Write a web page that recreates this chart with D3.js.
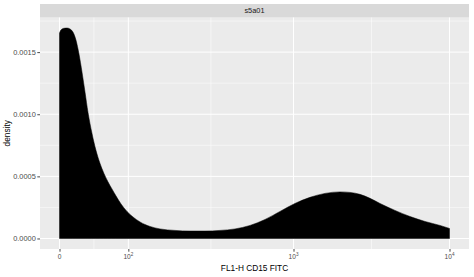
<!DOCTYPE html>
<html>
<head>
<meta charset="utf-8">
<script src="https://cdn.jsdelivr.net/npm/d3@7"></script>
<style>
  body { margin: 0; background: #fff; }
  text { font-family: "Liberation Sans", Arial, sans-serif; }
</style>
</head>
<body>
<svg></svg>
<script>
// x values are in the transformed (biexponential) scale, like ggcyto does it
let xTrans = [0.000, 0.015, 0.046, 0.077, 0.108, 0.138, 0.169, 0.200, 0.231, 0.262,
              0.292, 0.333, 0.374, 0.415, 0.456, 0.497, 0.538, 0.579, 0.631, 0.692,
              0.754, 0.826, 0.928, 1.031, 1.185, 1.338, 1.492, 1.646, 1.800, 1.954,
              2.108, 2.262, 2.415, 2.569, 2.723, 2.877, 2.979, 3.082, 3.185, 3.287,
              3.441, 3.595, 3.749, 3.903, 4.000]
let density = [0.001653, 0.001678, 0.001692, 0.001694, 0.001686, 0.001661, 0.001597, 0.001484, 0.001339, 0.001177,
               0.001016, 0.000847, 0.000710, 0.000605, 0.000524, 0.000456, 0.000399, 0.000343, 0.000278, 0.000218,
               0.000173, 0.000133, 0.000097, 0.000077, 0.000065, 0.000060, 0.000060, 0.000065, 0.000077, 0.000105,
               0.000153, 0.000218, 0.000282, 0.000331, 0.000363, 0.000375, 0.000371, 0.000355, 0.000323, 0.000282,
               0.000226, 0.000177, 0.000137, 0.000105, 0.000081]

// breaks (transformed position) and their labels
let xBreaks = [0, 0.706, 2.40, 4.0]
let xLabels = [['0', ''], ['10', '2'], ['10', '3'], ['10', '4']]
let yBreaks = [0, 0.0005, 0.0010, 0.0015]
let yLabels = ['0.0000', '0.0005', '0.0010', '0.0015']
let yMinor = [0.00025, 0.00075, 0.00125, 0.00175]

let panelName = 's5a01'
let xTitle = 'FL1-H CD15 FITC'
let yTitle = 'density'

let width = 474
let height = 277
let padLeft = 40, padRight = 469, stripTop = 4, panelTop = 17.5, panelBottom = 249

let values = xTrans.map((t, i) => [t, density[i]])

let svg = d3.select('svg').attr('width', width).attr('height', height)

// scales, with ggplot's 5% expansion
let xMin = d3.min(xTrans), xMax = d3.max(xTrans)
let xPad = (xMax - xMin) * 0.05
let xScale = d3.scaleLinear().domain([xMin - xPad, xMax + xPad]).range([padLeft, padRight])
let yMax = d3.max(density)
let yScale = d3.scaleLinear().domain([-yMax * 0.05, yMax * 1.05]).range([panelBottom, panelTop])

// panel + strip
svg.append('rect').attr('x', padLeft).attr('y', panelTop)
    .attr('width', padRight - padLeft).attr('height', panelBottom - panelTop)
    .attr('fill', '#EBEBEB')
svg.append('rect').attr('x', padLeft).attr('y', stripTop)
    .attr('width', padRight - padLeft).attr('height', panelTop - stripTop)
    .attr('fill', '#D9D9D9')
svg.append('text').attr('x', (padLeft + padRight) / 2).attr('y', (stripTop + panelTop) / 2 + 2.6)
    .attr('text-anchor', 'middle').attr('font-size', 7.4).attr('fill', '#1A1A1A').text(panelName)

// minor grid: midway between breaks
let xMinor = d3.pairs(xBreaks).map(p => (p[0] + p[1]) / 2)
let grid = svg.append('g')
grid.selectAll('.xminor').data(xMinor).enter().append('line')
    .attr('x1', d => xScale(d)).attr('x2', d => xScale(d)).attr('y1', panelTop).attr('y2', panelBottom)
    .attr('stroke', '#fff').attr('stroke-width', 0.5)
grid.selectAll('.yminor').data(yMinor).enter().append('line')
    .attr('y1', d => yScale(d)).attr('y2', d => yScale(d)).attr('x1', padLeft).attr('x2', padRight)
    .attr('stroke', '#fff').attr('stroke-width', 0.5)
grid.selectAll('.xmajor').data(xBreaks).enter().append('line')
    .attr('x1', d => xScale(d)).attr('x2', d => xScale(d)).attr('y1', panelTop).attr('y2', panelBottom)
    .attr('stroke', '#fff').attr('stroke-width', 1)
grid.selectAll('.ymajor').data(yBreaks).enter().append('line')
    .attr('y1', d => yScale(d)).attr('y2', d => yScale(d)).attr('x1', padLeft).attr('x2', padRight)
    .attr('stroke', '#fff').attr('stroke-width', 1)

// the density area
let area = d3.area()
    .x(d => xScale(d[0]))
    .y0(yScale(0))
    .y1(d => yScale(d[1]))
    .curve(d3.curveMonotoneX)

svg.append('path').datum(values).attr('d', area)
    .attr('fill', '#000').attr('stroke', '#000').attr('stroke-width', 0.5)

// axes
let yAxis = d3.axisLeft(yScale).tickValues(yBreaks).tickFormat((d, i) => yLabels[i])
    .tickSize(2.7).tickPadding(1.5)
let gy = svg.append('g').attr('transform', 'translate(' + padLeft + ',0)').call(yAxis)
gy.select('.domain').remove()
gy.selectAll('line').attr('stroke', '#333333').attr('stroke-width', 0.9)
gy.selectAll('text').attr('font-size', 7.4).attr('fill', '#4D4D4D').attr('font-family', null)

let xAxis = d3.axisBottom(xScale).tickValues(xBreaks).tickFormat('').tickSize(2.7)
let gx = svg.append('g').attr('transform', 'translate(0,' + panelBottom + ')').call(xAxis)
gx.select('.domain').remove()
gx.selectAll('line').attr('stroke', '#333333').attr('stroke-width', 0.9)

let xl = svg.append('g').selectAll('text').data(xBreaks).enter().append('text')
    .attr('x', d => xScale(d)).attr('y', 259)
    .attr('text-anchor', 'middle').attr('font-size', 6.6).attr('fill', '#4D4D4D')
xl.append('tspan').text((d, i) => xLabels[i][0])
xl.append('tspan').attr('dy', -3).attr('font-size', 4.6).text((d, i) => xLabels[i][1])

// titles
svg.append('text').attr('x', (padLeft + padRight) / 2).attr('y', 270.5).attr('text-anchor', 'middle')
    .attr('font-size', 8.3).attr('fill', '#000').text(xTitle)
svg.append('text').attr('transform', 'translate(9.5,' + (panelTop + panelBottom) / 2 + ') rotate(-90)')
    .attr('text-anchor', 'middle').attr('font-size', 8.3).attr('fill', '#000').text(yTitle)
</script>
</body>
</html>
